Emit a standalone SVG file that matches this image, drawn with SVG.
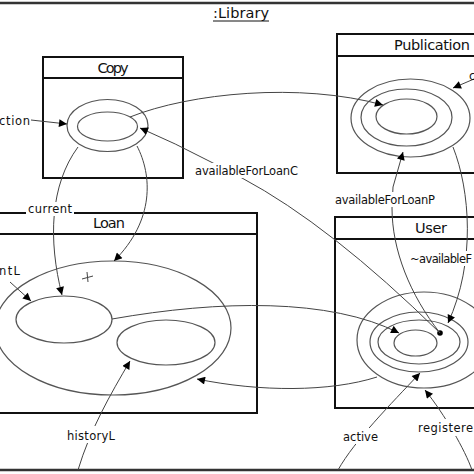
<svg xmlns="http://www.w3.org/2000/svg" width="474" height="474" viewBox="0 0 474 474">
<style>
.frame{stroke:#333;stroke-width:2.5;fill:none}
.box{fill:none;stroke:#111;stroke-width:2}
.ell{fill:none;stroke:#555;stroke-width:1.2}
.con{fill:none;stroke:#444;stroke-width:1}
.title{font-family:"DejaVu Sans","Liberation Sans",sans-serif;font-size:14.5px;fill:#111}
.lbl{font-family:"DejaVu Sans","Liberation Sans",sans-serif;font-size:11.5px;fill:#111}
.bg{fill:#fff}
</style>
<defs>
<marker id="ah" viewBox="0 0 10 10" refX="10" refY="5" markerWidth="9" markerHeight="8" markerUnits="userSpaceOnUse" orient="auto"><path d="M0,0 L10,5 L0,10 z" fill="#000"/></marker>
</defs>
<rect x="0" y="0" width="474" height="474" fill="#fff"/>
<g id="library">
<line class="frame" x1="0" y1="3" x2="474" y2="3"/>
<line class="frame" x1="0" y1="470" x2="474" y2="470"/>
<text class="title" x="241" y="18" text-anchor="middle" textLength="56" font-size="15">:Library</text>
<line x1="213" y1="21" x2="269" y2="21" stroke="#111" stroke-width="1"/>
</g>
<g id="copy">
<rect class="box" x="43" y="57" width="140" height="121"/>
<line class="box" x1="43" y1="78" x2="183" y2="78"/>
<text class="title" x="113" y="73" text-anchor="middle" textLength="31">Copy</text>
<ellipse class="ell" cx="107.5" cy="125.5" rx="40.5" ry="26"/>
<ellipse class="ell" cx="107.5" cy="126.5" rx="30" ry="14.5"/>
</g>
<g id="publication">
<rect class="box" x="337" y="34" width="145" height="139"/>
<line class="box" x1="337" y1="56" x2="482" y2="56"/>
<text class="title" x="394" y="50" textLength="76">Publication</text>
<ellipse class="ell" cx="410.5" cy="118" rx="59.5" ry="39"/>
<ellipse class="ell" cx="406.5" cy="117.5" rx="45.5" ry="28.5"/>
<ellipse class="ell" cx="406.5" cy="116.5" rx="30.5" ry="17.5"/>
</g>
<g id="loan">
<rect class="box" x="-5" y="213" width="262" height="200"/>
<line class="box" x1="-5" y1="234" x2="257" y2="234"/>
<text class="title" x="109" y="228" text-anchor="middle" textLength="32">Loan</text>
<ellipse class="ell" cx="113" cy="328" rx="118" ry="67"/>
<ellipse class="ell" cx="64" cy="319.5" rx="48" ry="23.5"/>
<ellipse class="ell" cx="166" cy="342.5" rx="49" ry="22.5"/>
<line x1="87" y1="272" x2="88" y2="282" stroke="#444" stroke-width="1"/>
<line x1="82" y1="279" x2="93" y2="276" stroke="#444" stroke-width="1"/>
</g>
<g id="user">
<rect class="box" x="335" y="217" width="145" height="191"/>
<line class="box" x1="335" y1="239" x2="480" y2="239"/>
<text class="title" x="431" y="233" text-anchor="middle" textLength="32">User</text>
<ellipse class="ell" cx="424" cy="340" rx="67" ry="48"/>
<ellipse class="ell" cx="419" cy="342" rx="49" ry="30"/>
<ellipse class="ell" cx="419" cy="342" rx="41" ry="22"/>
<ellipse class="ell" cx="415.5" cy="343" rx="21.5" ry="13"/>
<circle cx="440" cy="333" r="2.8" fill="#000"/>
</g>
<g id="connectors">
<path class="con" d="M31,120 L67,124" marker-end="url(#ah)"/>
<path class="con" d="M130,117 C190,93 300,82 383,105" marker-end="url(#ah)"/>
<path class="con" d="M440,333 Q330,225 242,178 L211,162 Q175,143 140,128" marker-end="url(#ah)"/>
<path class="con" d="M440,333 C410,295 392,250 392,208 L393,187 L403,152" marker-end="url(#ah)"/>
<path class="con" d="M453,147 C470,190 476,262 448,323" marker-end="url(#ah)"/>
<path class="con" d="M78,147 C50,185 48,240 62,295" marker-end="url(#ah)"/>
<path class="con" d="M137,146 C152,175 155,220 114,261" marker-end="url(#ah)"/>
<path class="con" d="M10,282 L31,301" marker-end="url(#ah)"/>
<path class="con" d="M112,319 C220,300 330,298 399,333" marker-end="url(#ah)"/>
<path class="con" d="M377,377 C330,392 260,392 197,379" marker-end="url(#ah)"/>
<path class="con" d="M78,470 C90,430 110,395 130,361" marker-end="url(#ah)"/>
<path class="con" d="M338,470 C355,440 390,405 420,373" marker-end="url(#ah)"/>
<path class="con" d="M472,470 C465,450 445,415 425,390" marker-end="url(#ah)"/>
<path class="con" d="M474,79 L453,88" marker-end="url(#ah)"/>
</g>
<g id="labels">
<text class="lbl" x="30" y="125" text-anchor="end" textLength="31">ction</text>
<rect class="bg" x="192" y="163" width="109" height="15"/>
<text class="lbl" x="195" y="175" textLength="103">availableForLoanC</text>
<rect class="bg" x="333" y="192" width="104" height="15"/>
<text class="lbl" x="335" y="204" textLength="100">availableForLoanP</text>
<rect class="bg" x="407" y="251" width="67" height="15"/>
<text class="lbl" x="410" y="263" textLength="62">~availableF</text>
<rect class="bg" x="26" y="202" width="48" height="14"/>
<text class="lbl" x="28" y="213" textLength="44">current</text>
<text class="lbl" x="20" y="275" text-anchor="end" textLength="21">ntL</text>
<rect class="bg" x="64" y="426" width="54" height="17"/>
<text class="lbl" x="67" y="440" textLength="48">historyL</text>
<rect class="bg" x="340" y="428" width="41" height="16"/>
<text class="lbl" x="343" y="441" textLength="35">active</text>
<rect class="bg" x="415" y="419" width="59" height="17"/>
<text class="lbl" x="418" y="432" textLength="55">registere</text>
<text class="lbl" x="469" y="80">c</text>
</g>
</svg>
